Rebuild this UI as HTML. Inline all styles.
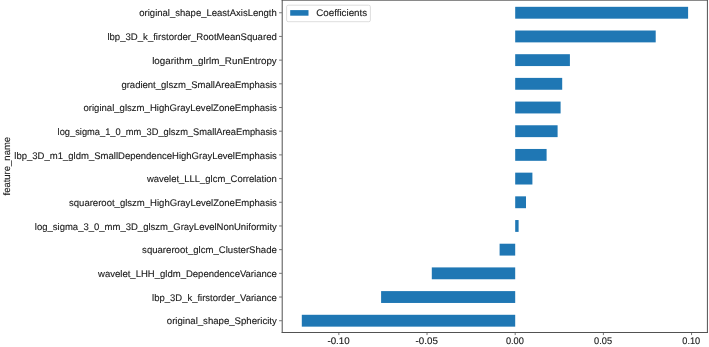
<!DOCTYPE html>
<html lang="en"><head><meta charset="utf-8"><title>Coefficients</title>
<style>
html,body{margin:0;padding:0;background:#fff;}
body{width:709px;height:347px;overflow:hidden;}
svg{display:block;}
text{font-family:"Liberation Sans",sans-serif;font-size:9.6px;fill:#202020;stroke:#202020;stroke-width:0.12px;text-rendering:geometricPrecision;}
</style></head><body>
<svg width="709" height="347" viewBox="0 0 709 347">
<rect x="0" y="0" width="709" height="347" fill="#ffffff"/>

<rect x="515.20" y="6.82" width="172.90" height="11.86" fill="#1f77b4"/>
<rect x="515.20" y="30.51" width="140.50" height="11.86" fill="#1f77b4"/>
<rect x="515.20" y="54.20" width="54.70" height="11.86" fill="#1f77b4"/>
<rect x="515.20" y="77.89" width="47.00" height="11.86" fill="#1f77b4"/>
<rect x="515.20" y="101.58" width="45.40" height="11.86" fill="#1f77b4"/>
<rect x="515.20" y="125.27" width="42.40" height="11.86" fill="#1f77b4"/>
<rect x="515.20" y="148.96" width="31.40" height="11.86" fill="#1f77b4"/>
<rect x="515.20" y="172.65" width="17.20" height="11.86" fill="#1f77b4"/>
<rect x="515.20" y="196.34" width="10.80" height="11.86" fill="#1f77b4"/>
<rect x="515.20" y="220.03" width="3.40" height="11.86" fill="#1f77b4"/>
<rect x="499.60" y="243.72" width="15.60" height="11.86" fill="#1f77b4"/>
<rect x="431.80" y="267.41" width="83.40" height="11.86" fill="#1f77b4"/>
<rect x="381.10" y="291.10" width="134.10" height="11.86" fill="#1f77b4"/>
<rect x="301.80" y="314.79" width="213.40" height="11.86" fill="#1f77b4"/>
<rect x="281.7" y="0" width="426.2" height="1" fill="#8a8a8a"/>
<rect x="281.7" y="0" width="1" height="333" fill="#525252"/>
<rect x="706.9" y="0" width="1" height="333" fill="#525252"/>
<rect x="281.7" y="332" width="426.2" height="1" fill="#525252"/>
<line x1="279.10" y1="12.75" x2="281.90" y2="12.75" stroke="#525252" stroke-width="0.8"/>
<text x="276.80" y="16.45" text-anchor="end" textLength="137.5" lengthAdjust="spacingAndGlyphs">original_shape_LeastAxisLength</text>
<line x1="279.10" y1="36.44" x2="281.90" y2="36.44" stroke="#525252" stroke-width="0.8"/>
<text x="276.80" y="40.14" text-anchor="end" textLength="169.4" lengthAdjust="spacingAndGlyphs">lbp_3D_k_firstorder_RootMeanSquared</text>
<line x1="279.10" y1="60.13" x2="281.90" y2="60.13" stroke="#525252" stroke-width="0.8"/>
<text x="276.80" y="63.83" text-anchor="end" textLength="124.6" lengthAdjust="spacingAndGlyphs">logarithm_glrlm_RunEntropy</text>
<line x1="279.10" y1="83.82" x2="281.90" y2="83.82" stroke="#525252" stroke-width="0.8"/>
<text x="276.80" y="87.52" text-anchor="end" textLength="155.4" lengthAdjust="spacingAndGlyphs">gradient_glszm_SmallAreaEmphasis</text>
<line x1="279.10" y1="107.51" x2="281.90" y2="107.51" stroke="#525252" stroke-width="0.8"/>
<text x="276.80" y="111.21" text-anchor="end" textLength="193.3" lengthAdjust="spacingAndGlyphs">original_glszm_HighGrayLevelZoneEmphasis</text>
<line x1="279.10" y1="131.20" x2="281.90" y2="131.20" stroke="#525252" stroke-width="0.8"/>
<text x="276.80" y="134.90" text-anchor="end" textLength="219.2" lengthAdjust="spacingAndGlyphs">log_sigma_1_0_mm_3D_glszm_SmallAreaEmphasis</text>
<line x1="279.10" y1="154.89" x2="281.90" y2="154.89" stroke="#525252" stroke-width="0.8"/>
<text x="276.80" y="158.59" text-anchor="end" textLength="262.5" lengthAdjust="spacingAndGlyphs">lbp_3D_m1_gldm_SmallDependenceHighGrayLevelEmphasis</text>
<line x1="279.10" y1="178.58" x2="281.90" y2="178.58" stroke="#525252" stroke-width="0.8"/>
<text x="276.80" y="182.28" text-anchor="end" textLength="129.8" lengthAdjust="spacingAndGlyphs">wavelet_LLL_glcm_Correlation</text>
<line x1="279.10" y1="202.27" x2="281.90" y2="202.27" stroke="#525252" stroke-width="0.8"/>
<text x="276.80" y="205.97" text-anchor="end" textLength="207.8" lengthAdjust="spacingAndGlyphs">squareroot_glszm_HighGrayLevelZoneEmphasis</text>
<line x1="279.10" y1="225.96" x2="281.90" y2="225.96" stroke="#525252" stroke-width="0.8"/>
<text x="276.80" y="229.66" text-anchor="end" textLength="242.0" lengthAdjust="spacingAndGlyphs">log_sigma_3_0_mm_3D_glszm_GrayLevelNonUniformity</text>
<line x1="279.10" y1="249.65" x2="281.90" y2="249.65" stroke="#525252" stroke-width="0.8"/>
<text x="276.80" y="253.35" text-anchor="end" textLength="134.7" lengthAdjust="spacingAndGlyphs">squareroot_glcm_ClusterShade</text>
<line x1="279.10" y1="273.34" x2="281.90" y2="273.34" stroke="#525252" stroke-width="0.8"/>
<text x="276.80" y="277.04" text-anchor="end" textLength="178.7" lengthAdjust="spacingAndGlyphs">wavelet_LHH_gldm_DependenceVariance</text>
<line x1="279.10" y1="297.03" x2="281.90" y2="297.03" stroke="#525252" stroke-width="0.8"/>
<text x="276.80" y="300.73" text-anchor="end" textLength="124.7" lengthAdjust="spacingAndGlyphs">lbp_3D_k_firstorder_Variance</text>
<line x1="279.10" y1="320.72" x2="281.90" y2="320.72" stroke="#525252" stroke-width="0.8"/>
<text x="276.80" y="324.42" text-anchor="end" textLength="110.0" lengthAdjust="spacingAndGlyphs">original_shape_Sphericity</text>
<line x1="338.85" y1="332.50" x2="338.85" y2="335.10" stroke="#525252" stroke-width="0.8"/>
<text x="338.55" y="344.30" text-anchor="middle" textLength="22.3" lengthAdjust="spacingAndGlyphs">-0.10</text>
<line x1="427.03" y1="332.50" x2="427.03" y2="335.10" stroke="#525252" stroke-width="0.8"/>
<text x="426.73" y="344.30" text-anchor="middle" textLength="22.3" lengthAdjust="spacingAndGlyphs">-0.05</text>
<line x1="515.20" y1="332.50" x2="515.20" y2="335.10" stroke="#525252" stroke-width="0.8"/>
<text x="514.90" y="344.30" text-anchor="middle" textLength="18.0" lengthAdjust="spacingAndGlyphs">0.00</text>
<line x1="603.38" y1="332.50" x2="603.38" y2="335.10" stroke="#525252" stroke-width="0.8"/>
<text x="603.08" y="344.30" text-anchor="middle" textLength="18.0" lengthAdjust="spacingAndGlyphs">0.05</text>
<line x1="691.55" y1="332.50" x2="691.55" y2="335.10" stroke="#525252" stroke-width="0.8"/>
<text x="691.25" y="344.30" text-anchor="middle" textLength="18.0" lengthAdjust="spacingAndGlyphs">0.10</text>
<text transform="translate(10.2,166.2) rotate(-90)" text-anchor="middle" textLength="58.6" lengthAdjust="spacingAndGlyphs">feature_name</text>
<rect x="286.6" y="5.2" width="83.8" height="16.5" rx="1.6" fill="#ffffff" fill-opacity="0.8" stroke="#d4d4d4" stroke-width="0.8"/>
<rect x="290.2" y="10.1" width="18.3" height="5.6" fill="#1f77b4"/>
<text x="316.2" y="16.0" textLength="51" lengthAdjust="spacingAndGlyphs">Coefficients</text>
</svg></body></html>
